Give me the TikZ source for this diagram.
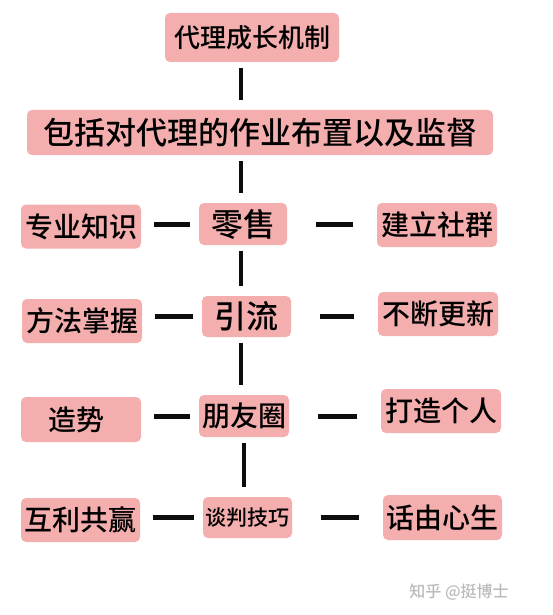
\documentclass[tikz,border=0pt]{standalone}
\usepackage{fontspec}
\newfontfamily\cjk{Noto Sans CJK SC}[UprightFont=* Medium,BoldFont=* Bold]
\usepackage{tikz}
\usetikzlibrary{positioning,calc}
\definecolor{boxpink}{HTML}{F5AEAE}
\definecolor{markgray}{HTML}{BBBBBB}
\tikzset{
    box/.style={fill=boxpink,rounded corners=5pt,inner sep=0pt,align=center,
        font=\cjk\fontsize{28}{30}\selectfont},
    side/.style={box,minimum width=120pt,minimum height=44pt},
    core/.style={box,minimum width=89pt,minimum height=42pt},
    vbar/.style={line width=4.5pt,black!95,shorten <=6pt,shorten >=10pt},
    lbar/.style={line width=5pt,black!95,shorten <=13pt,shorten >=9pt},
    rbar/.style={line width=5pt,black!95,shorten <=29pt,shorten >=24pt}
}

\begin{document}
\begin{tikzpicture}[x=1pt,y=-1pt]
                \useasboundingbox[fill=white] (0,0) rectangle (553,615);
                \node[box,minimum width=174pt,minimum height=49pt,
                    font=\cjk\fontsize{26}{28}\selectfont] (top) at (252,37.5) {代理成长机制};
                \node[box,minimum width=466pt,minimum height=45pt,
                    font=\cjk\fontsize{31}{33}\selectfont] (scope) at (260,132.5) {包括对代理的作业布置以及监督};
                % row 1
                \node[core,minimum width=88pt,font=\cjk\fontsize{32}{34}\selectfont] (ling) at (243,224) {零售};
                \node[side] (zhuanye) at (81,226.5) {专业知识};
                \node[side] (jianli) at (437,225) {建立社群};
                % row 2
                \node[core,minimum height=41pt,font=\cjk\fontsize{32}{34}\selectfont] (yin) at (246.5,316.5) {引流};
                \node[side] (fangfa) at (82,321) {方法掌握};
                \node[side] (buduan) at (438,314) {不断更新};
                % row 3
                \node[core,minimum width=90pt] (peng) at (244,416) {朋友圈};
                \node[side,minimum height=45pt,text width=110pt,align=left] (zaoshi) at (81,419.5) {\hspace*{22pt}造势};
                \node[side] (dazao) at (441,411) {打造个人};
                % row 4
                \node[core,minimum height=41pt,font=\cjk\fontsize{21}{23}\selectfont] (tan) at (247.5,517.5) {谈判技巧};
                \node[side,minimum width=119pt] (huli) at (80.5,520) {互利共赢};
                \node[side,minimum width=119pt,minimum height=45pt] (huayou) at (442.5,517.5) {话由心生};
                \node[font=\cjk\fontsize{16}{18}\selectfont,text=markgray] (mark) at (459,592) {知乎 @挺博士};
                % spine
                \coordinate (spine) at (241,0);
                \coordinate (spine2) at (244,0);
                \draw[vbar] (top.south -| spine) -- (scope.north -| spine);
                \draw[vbar] (scope.south -| spine) -- (ling.north -| spine);
                \draw[vbar] (ling.south -| spine) -- (yin.north -| spine);
                \draw[vbar] (yin.south -| spine) -- (peng.north -| spine);
                \draw[vbar] (peng.south -| spine2) -- (tan.north -| spine2);
                % branches
                \draw[lbar] (zhuanye.east |- ling) -- (ling.west);
                \draw[rbar] (ling.east) -- (jianli.west |- ling);
                \draw[lbar] (fangfa.east |- yin) -- (yin.west);
                \draw[rbar] (yin.east) -- (buduan.west |- yin);
                \draw[lbar] (zaoshi.east |- peng) -- (peng.west);
                \draw[rbar] (peng.east) -- (dazao.west |- peng);
                \draw[lbar] (huli.east |- tan) -- (tan.west);
                \draw[rbar] (tan.east) -- (huayou.west |- tan);
\end{tikzpicture}
\end{document}
